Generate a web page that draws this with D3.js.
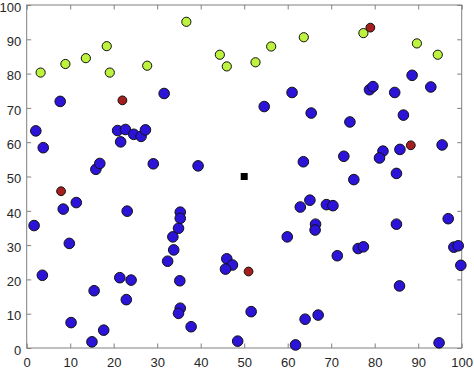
<!DOCTYPE html>
<html lang="en">
<head>
  <meta charset="UTF-8">
  <title>Scatter</title>
  <script src="https://d3js.org/d3.v7.min.js"></script>
  <style>
    html, body { margin: 0; padding: 0; background: #fff; }
    svg { display: block; font-family: "Liberation Sans", Arial, sans-serif; }
  </style>
</head>
<body>
  <div id="chart"></div>
  <script>
    const xTicks = [0, 10, 20, 30, 40, 50, 60, 70, 80, 90, 100];
    const yTicks = [0, 10, 20, 30, 40, 50, 60, 70, 80, 90, 100];

    // blue points
    const blueX = [7.7, 2.1, 3.8, 15.9, 16.8, 20.9, 21.6, 22.7, 24.6, 26.3, 27.3, 29.1, 31.6, 39.4,
      61.0, 54.6, 65.4, 74.3, 78.8, 79.6, 84.6, 88.6, 92.9, 86.6, 95.5, 85.8, 81.9, 81.1, 72.9, 63.6, 75.2, 85.0,
      8.4, 11.4, 1.7, 9.8, 3.6, 23.1, 35.3, 35.3, 34.9, 33.6, 33.8, 32.4, 21.4, 24.0, 35.2, 15.5, 22.9, 35.3, 34.9,
      10.2, 17.7, 37.8, 15.0, 46.0, 47.3, 45.7, 48.5,
      62.9, 65.1, 68.9, 70.4, 66.4, 66.3, 59.9, 71.4, 76.2, 77.4, 85.0, 96.9, 98.2, 99.2, 99.8, 85.7, 51.6, 64.0, 67.0, 61.8, 94.8];
    const blueY = [71.9, 63.3, 58.4, 52.1, 53.8, 63.4, 60.1, 63.7, 62.3, 61.7, 63.6, 53.7, 74.2, 53.1,
      74.5, 70.4, 68.5, 65.9, 75.3, 76.2, 74.5, 79.5, 76.1, 67.9, 59.2, 57.9, 57.4, 55.4, 55.9, 54.3, 49.1, 50.9,
      40.5, 42.4, 35.7, 30.5, 21.2, 39.9, 39.6, 37.8, 34.9, 32.4, 28.6, 25.3, 20.5, 19.8, 19.6, 16.7, 14.1, 11.6, 10.1,
      7.4, 5.2, 6.2, 1.8, 26.0, 24.2, 23.0, 2.0,
      41.1, 43.1, 41.8, 41.5, 36.1, 34.4, 32.4, 26.9, 29.0, 29.5, 36.1, 37.7, 29.4, 29.8, 24.1, 18.1, 10.6, 8.4, 9.6, 0.9, 1.5];

    // green points
    const greenX = [3.2, 8.9, 13.6, 18.4, 19.1, 27.7, 36.7, 44.4, 46.0, 52.6, 56.2, 63.7, 77.4, 89.7, 94.5];
    const greenY = [80.3, 82.8, 84.5, 88.0, 80.3, 82.3, 95.1, 85.5, 82.1, 83.3, 87.9, 90.6, 91.8, 88.8, 85.5];

    // red points
    const redX = [79.0, 22.0, 88.3, 7.9, 51.0];
    const redY = [93.4, 72.2, 59.1, 45.7, 22.3];

    // black square
    const centerX = [50];
    const centerY = [50];

    const width = 474, height = 369;
    const mLeft = 26.7, mRight = 461.7, mTop = 5, mBottom = 348;
    const axisColor = '#808080';

    const svg = d3.select('#chart').append('svg')
      .attr('width', width)
      .attr('height', height);

    const x = d3.scaleLinear().domain([0, 100]).range([mLeft, mRight]);
    const y = d3.scaleLinear().domain([0, 100]).range([mBottom, mTop]);

    // box
    svg.append('rect')
      .attr('x', mLeft).attr('y', mTop)
      .attr('width', mRight - mLeft).attr('height', mBottom - mTop)
      .attr('fill', 'none').attr('stroke', axisColor).attr('stroke-width', 1);

    const tickLen = 4.5;
    const fontSize = 13;

    // bottom axis
    svg.append('g').attr('transform', `translate(0,${mBottom})`)
      .call(d3.axisBottom(x).tickValues(xTicks).tickSize(-tickLen).tickPadding(9.5));
    // top ticks
    svg.append('g').attr('transform', `translate(0,${mTop})`)
      .call(d3.axisTop(x).tickValues(xTicks).tickSize(-tickLen).tickFormat(''));
    // left axis
    const yAxisG = svg.append('g').attr('transform', `translate(${mLeft},0)`)
      .call(d3.axisLeft(y).tickValues(yTicks).tickSize(-tickLen).tickPadding(5.5));
    yAxisG.selectAll('.tick text').attr('dy', '0.48em');
    // right ticks
    svg.append('g').attr('transform', `translate(${mRight},0)`)
      .call(d3.axisRight(y).tickValues(yTicks).tickSize(-tickLen).tickFormat(''));

    svg.selectAll('.domain').remove();
    svg.selectAll('.tick line').attr('stroke', axisColor);
    svg.selectAll('.tick text')
      .attr('fill', '#262626')
      .style('font-size', fontSize + 'px')
      .style('font-family', '"Liberation Sans", Arial, sans-serif');

    function drawPoints(xs, ys, fill, r) {
      svg.append('g').selectAll('circle')
        .data(xs.map((v, i) => [v, ys[i]]))
        .enter().append('circle')
        .attr('cx', d => x(d[0]))
        .attr('cy', d => y(d[1]))
        .attr('r', r)
        .attr('fill', fill)
        .attr('stroke', '#111')
        .attr('stroke-width', 1);
    }

    drawPoints(blueX, blueY, '#2b14d8', 5.3);
    drawPoints(greenX, greenY, '#bdf23e', 4.6);
    drawPoints(redX, redY, '#a51e1e', 4.4);

    const sq = 7;
    svg.append('g').selectAll('rect')
      .data(centerX.map((v, i) => [v, centerY[i]]))
      .enter().append('rect')
      .attr('x', d => x(d[0]) - sq / 2)
      .attr('y', d => y(d[1]) - sq / 2)
      .attr('width', sq).attr('height', sq)
      .attr('fill', '#000');
  </script>
</body>
</html>
